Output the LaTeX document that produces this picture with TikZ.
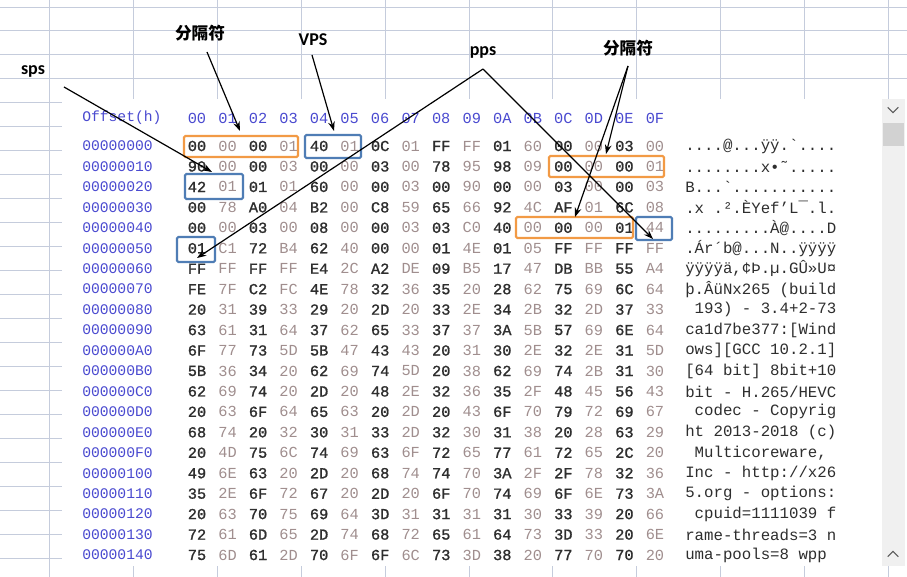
\documentclass[tikz,border=0pt]{standalone}
\usepackage{fontspec}
\usetikzlibrary{arrows.meta}
\newfontfamily\hexfont{Liberation Mono}
\newfontfamily\hexbold{Liberation Mono}[FakeBold=1.2]
\newfontfamily\cjk{Noto Sans CJK SC}
\newfontfamily\lblfont{Carlito}
\definecolor{dk}{HTML}{2E2E2E}
\definecolor{lt}{HTML}{A08E8E}
\definecolor{offc}{HTML}{4A4AD0}
\definecolor{gridc}{HTML}{C5CCDC}
\definecolor{orng}{HTML}{F29A45}
\definecolor{blu}{HTML}{4F7DB5}
\tikzset{
  hexb/.style={font=\hexfont\fontsize{11.5}{12}\selectfont, inner sep=0pt},
  offs/.style={font=\hexfont\fontsize{11}{12}\selectfont, text=offc, anchor=west, inner sep=0pt},
  asc/.style={font=\hexfont\fontsize{11.8}{12}\selectfont, text=dk, anchor=west, inner sep=0pt},
  obox/.style={draw=orng, line width=1.6pt, rounded corners=1pt},
  bbox/.style={draw=blu, line width=1.6pt, rounded corners=1pt},
  arr/.style={draw=black, line width=0.9pt, -{Stealth[length=7pt,width=5pt]}},
  lbl/.style={font=\lblfont\bfseries\fontsize{13.5}{14}\selectfont, inner sep=0pt},
  clbl/.style={font=\cjk\bfseries\fontsize{12.5}{13}\selectfont, inner sep=0pt},
  chev/.style={draw=gray!70!black, line width=0.8pt}
}
\newcommand\hexrow[4]{%
  \node[offs] (o#1) at (82,{146+20.45*#1}) {#2};
  \foreach \b [count=\i from 0] in {#3} {
    \ifodd\i
      \node[hexb, text=lt] (b#1x\i) at ({197+30.53*\i},{146+20.45*#1}) {\b};
    \else
      \node[hexb, text=dk, font=\hexbold\fontsize{11.5}{12}\selectfont] (b#1x\i) at ({197+30.53*\i},{146+20.45*#1}) {\b};
    \fi
  }
  \node[asc] (a#1) at (685,{146+20.45*#1}) {#4};
}
\begin{document}
\begin{tikzpicture}[x=0.75pt,y=-0.75pt]
\useasboundingbox (0,0) rectangle (907,577);
\fill[white] (0,0) rectangle (907,577);
% spreadsheet grid
\foreach \gx in {49,133,217,301,385,469,552,636,720,804,888} \draw[gridc] (\gx,0) -- (\gx,577);
\foreach \gy in {7,30,54,78,102,126,150,174,198,222,246,270,294,318,342,366,390,414,438,462,486,510,534,558} \draw[gridc] (0,\gy) -- (907,\gy);
% panel
\fill[white] (62,99) rectangle (907,566);
\fill[gray!12] (882,99) rectangle (905,566);
\fill[gray!35] (883,123) rectangle (904,146);
\coordinate (upc) at (893,110);
\coordinate (dnc) at (893,554);
\draw[chev] ([xshift=-4,yshift=2]upc) -- ([yshift=-2]upc) -- ([xshift=4,yshift=2]upc);
\draw[chev] ([xshift=-4,yshift=-2]dnc) -- ([yshift=2]dnc) -- ([xshift=4,yshift=-2]dnc);
% header
\node[offs] (hdr) at (82,118) {Offset(h)};
\foreach \h [count=\i from 0] in {00,01,02,03,04,05,06,07,08,09,0A,0B,0C,0D,0E,0F}
  \node[hexb, text=offc] (h\i) at ({197+30.53*\i},118) {\h};
% rows
\hexrow{0}{00000000}{00,00,00,01,40,01,0C,01,FF,FF,01,60,00,00,03,00}{....@...ÿÿ.{\char"60}....}
\hexrow{1}{00000010}{90,00,00,03,00,00,03,00,78,95,98,09,00,00,00,01}{........x•˜.....}
\hexrow{2}{00000020}{42,01,01,01,60,00,00,03,00,90,00,00,03,00,00,03}{B...{\char"60}...........}
\hexrow{3}{00000030}{00,78,A0,04,B2,00,C8,59,65,66,92,4C,AF,01,6C,08}{.x\ .².ÈYef’L¯.l.}
\hexrow{4}{00000040}{00,00,03,00,08,00,00,03,03,C0,40,00,00,00,01,44}{.........À@....D}
\hexrow{5}{00000050}{01,C1,72,B4,62,40,00,00,01,4E,01,05,FF,FF,FF,FF}{.Ár´b@...N..ÿÿÿÿ}
\hexrow{6}{00000060}{FF,FF,FF,FF,E4,2C,A2,DE,09,B5,17,47,DB,BB,55,A4}{ÿÿÿÿä,¢Þ.µ.GÛ»U¤}
\hexrow{7}{00000070}{FE,7F,C2,FC,4E,78,32,36,35,20,28,62,75,69,6C,64}{þ.ÂüNx265\ (build}
\hexrow{8}{00000080}{20,31,39,33,29,20,2D,20,33,2E,34,2B,32,2D,37,33}{\ 193)\ -\ 3.4+2-73}
\hexrow{9}{00000090}{63,61,31,64,37,62,65,33,37,37,3A,5B,57,69,6E,64}{ca1d7be377:[Wind}
\hexrow{10}{000000A0}{6F,77,73,5D,5B,47,43,43,20,31,30,2E,32,2E,31,5D}{ows][GCC\ 10.2.1]}
\hexrow{11}{000000B0}{5B,36,34,20,62,69,74,5D,20,38,62,69,74,2B,31,30}{[64\ bit]\ 8bit+10}
\hexrow{12}{000000C0}{62,69,74,20,2D,20,48,2E,32,36,35,2F,48,45,56,43}{bit\ -\ H.265/HEVC}
\hexrow{13}{000000D0}{20,63,6F,64,65,63,20,2D,20,43,6F,70,79,72,69,67}{\ codec\ -\ Copyrig}
\hexrow{14}{000000E0}{68,74,20,32,30,31,33,2D,32,30,31,38,20,28,63,29}{ht\ 2013-2018\ (c)}
\hexrow{15}{000000F0}{20,4D,75,6C,74,69,63,6F,72,65,77,61,72,65,2C,20}{\ Multicoreware,}
\hexrow{16}{00000100}{49,6E,63,20,2D,20,68,74,74,70,3A,2F,2F,78,32,36}{Inc\ -\ http://x26}
\hexrow{17}{00000110}{35,2E,6F,72,67,20,2D,20,6F,70,74,69,6F,6E,73,3A}{5.org\ -\ options:}
\hexrow{18}{00000120}{20,63,70,75,69,64,3D,31,31,31,31,30,33,39,20,66}{\ cpuid=1111039\ f}
\hexrow{19}{00000130}{72,61,6D,65,2D,74,68,72,65,61,64,73,3D,33,20,6E}{rame-threads=3\ n}
\hexrow{20}{00000140}{75,6D,61,2D,70,6F,6F,6C,73,3D,38,20,77,70,70,20}{uma-pools=8\ wpp}
% boxes
\draw[obox] (184,136) rectangle (298,157);
\draw[bbox] (305,135) rectangle (361,158);
\draw[obox] (549,156) rectangle (664,177);
\draw[bbox] (185,174) rectangle (243,199);
\draw[obox] (516,217) rectangle (633,238);
\draw[bbox] (636,217) rectangle (672,240);
\draw[bbox] (177,237) rectangle (215,262);
% labels
\node[lbl] (sps) at (33,71) {sps};
\node[clbl] (sep1) at (200,33) {分隔符};
\node[lbl] (vps) at (313,40) {VPS};
\node[lbl] (pps) at (483,52) {pps};
\node[clbl] (sep2) at (628,48) {分隔符};
% arrow ends
\coordinate (spsS) at (64,87);  \coordinate (spsE) at (212,172);
\coordinate (s1S) at (207,52);  \coordinate (s1E) at (240,131);
\coordinate (vS) at (312,55);   \coordinate (vE) at (334,131);
\coordinate (pS) at (483,69);   \coordinate (pE1) at (197,258); \coordinate (pE2) at (653,239);
\coordinate (s2S) at (628,66);  \coordinate (s2E1) at (606,154); \coordinate (s2E2) at (575,217);
\draw[arr] (spsS) -- (spsE);
\draw[arr] (s1S) -- (s1E);
\draw[arr] (vS) -- (vE);
\draw[arr] (pS) -- (pE1);
\draw[arr] (pS) -- (pE2);
\draw[arr] (s2S) -- (s2E1);
\draw[arr] (s2S) -- (s2E2);
\end{tikzpicture}
\end{document}
